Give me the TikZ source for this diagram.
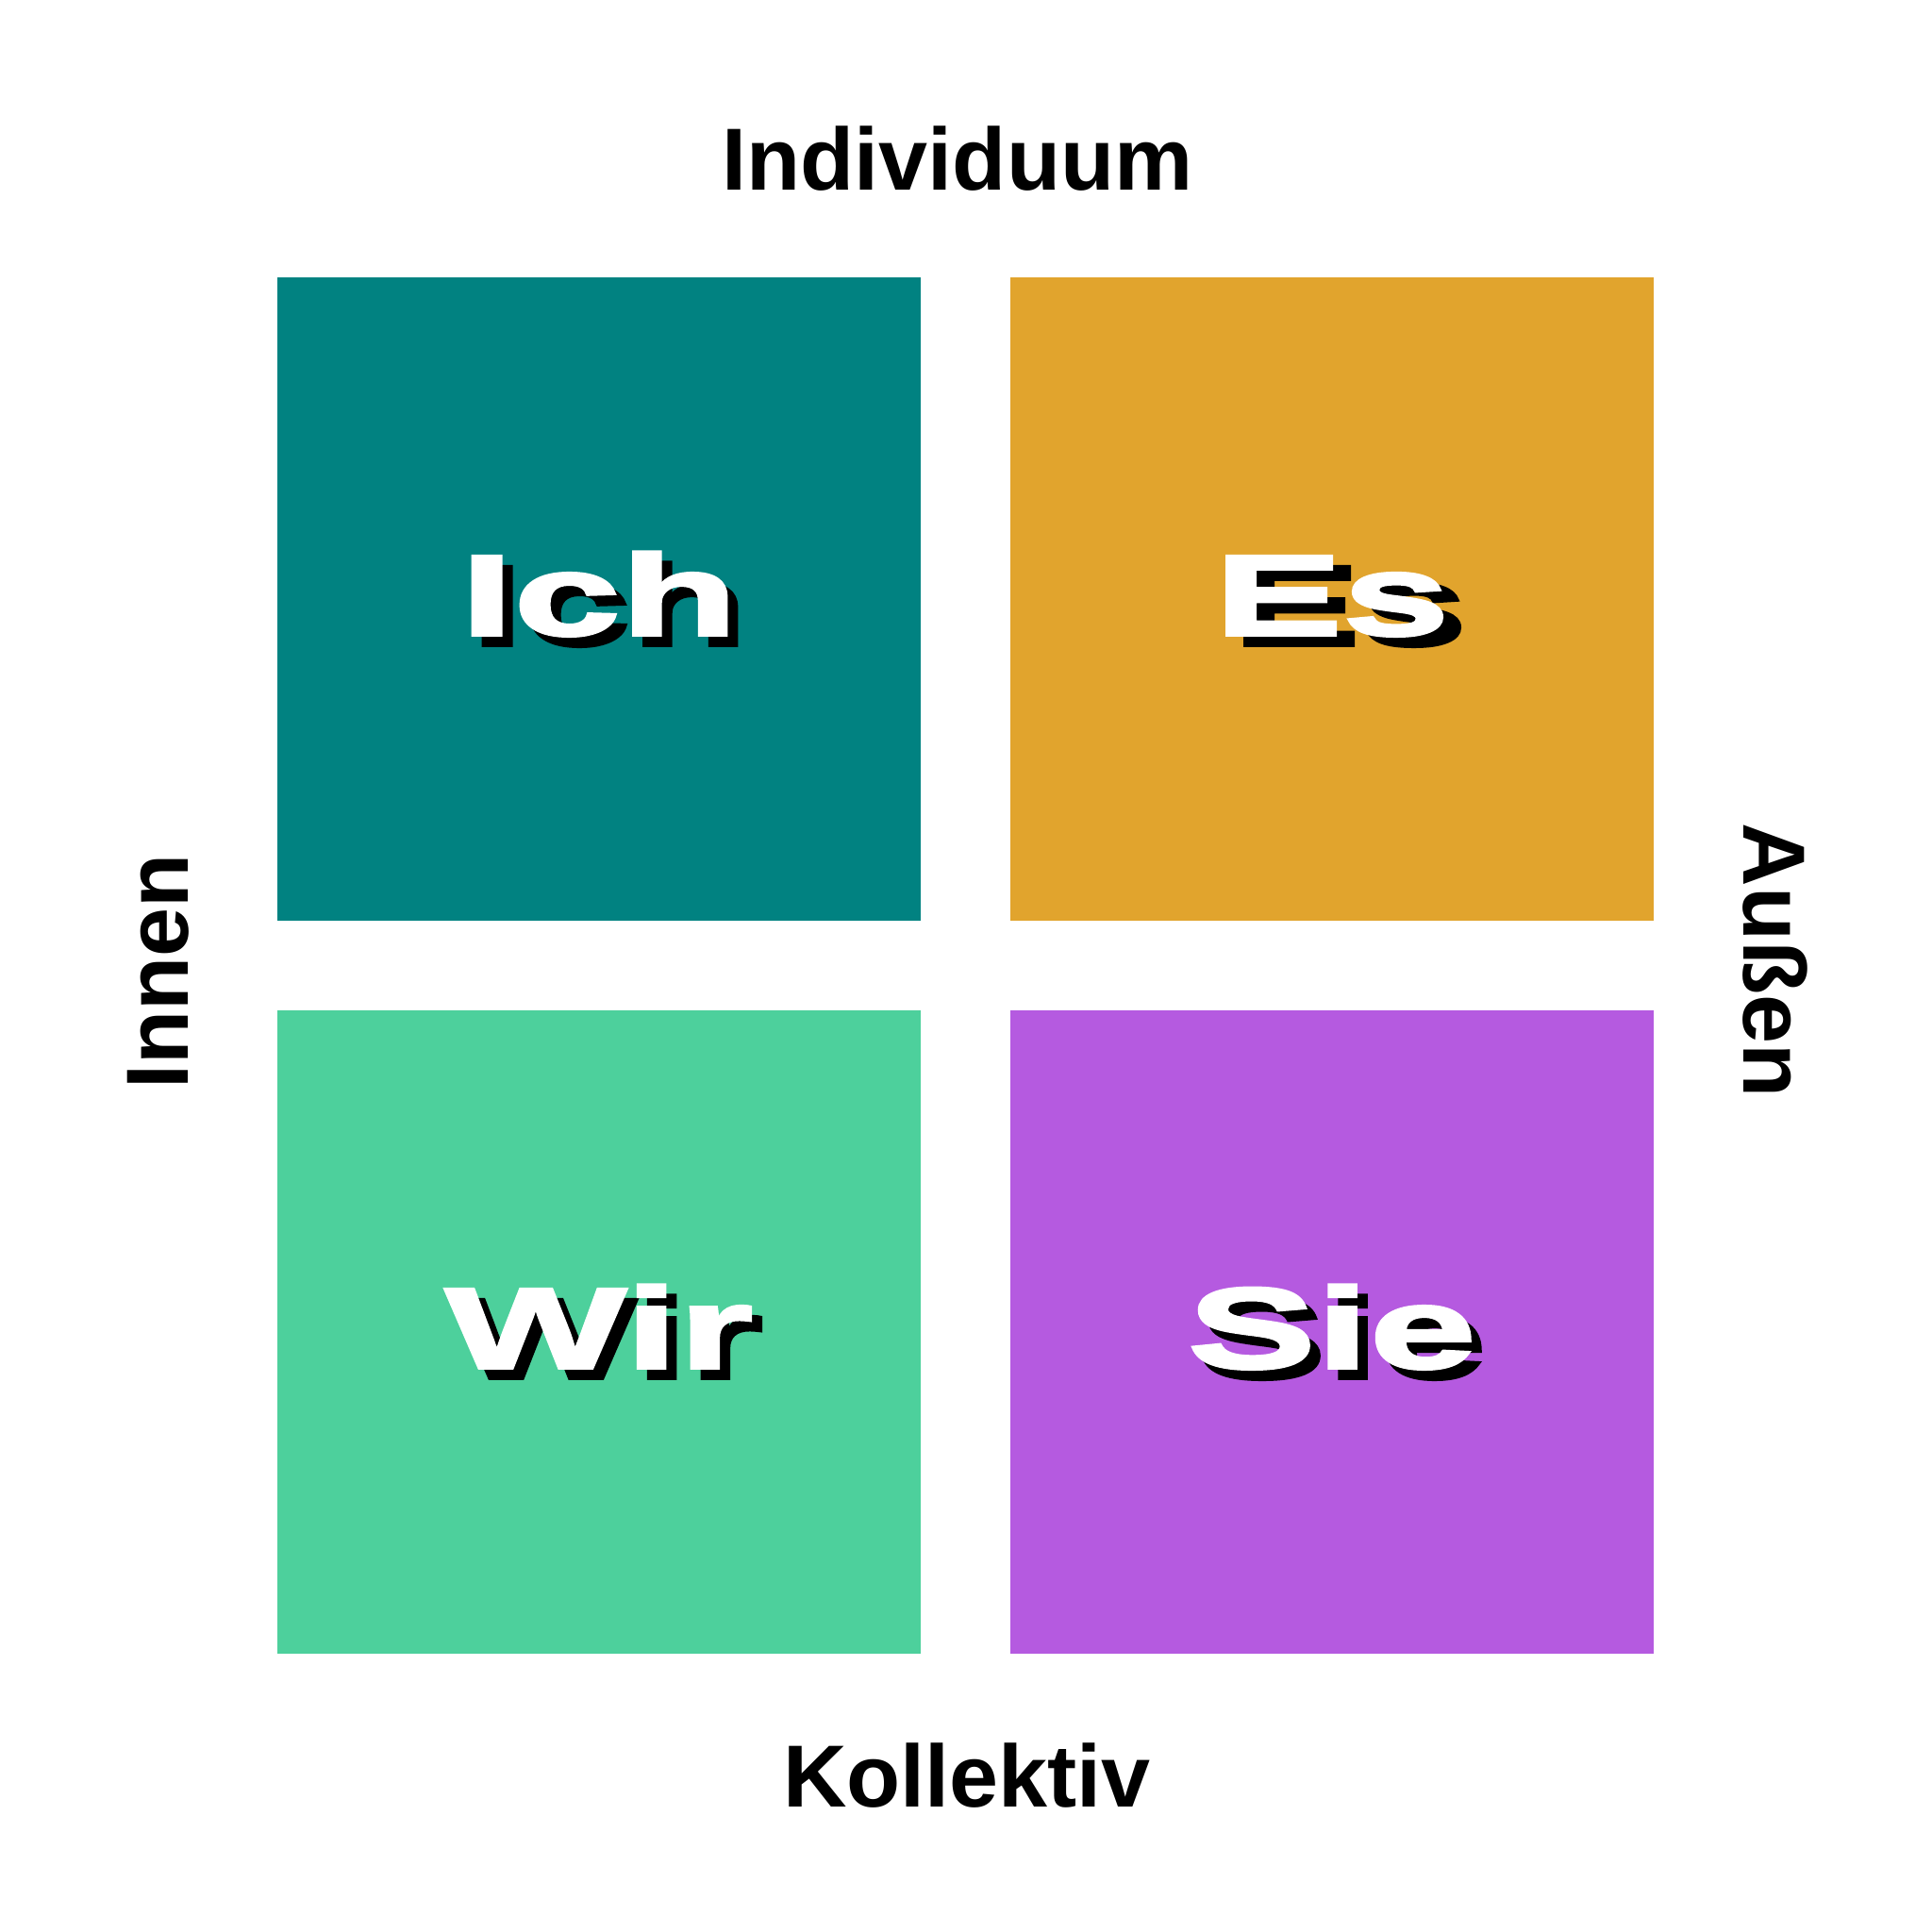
\documentclass[tikz,border=0pt]{standalone}
\usepackage{fontspec}
\setmainfont{Liberation Sans}
\newfontfamily\widefont{Liberation Sans}[FakeStretch=1.68,FakeBold=3]
\definecolor{ichcol}{HTML}{018281}
\definecolor{escol}{HTML}{E1A42D}
\definecolor{wircol}{HTML}{4DD09C}
\definecolor{siecol}{HTML}{B55AE0}
\tikzset{
  quad/.style={rectangle, minimum size=6.82cm, inner sep=0pt},
  axis/.style={font=\bfseries\fontsize{26.6}{30}\selectfont, anchor=base, inner sep=0pt},
  big/.style={font=\widefont\bfseries\fontsize{34.5}{40}\selectfont, anchor=base, inner sep=0pt, text=white},
  shade/.style={big, text=black},
}
\begin{document}
\begin{tikzpicture}
  \useasboundingbox (0,0) rectangle (20.48,-20.48);

  % four quadrants with shadowed labels
  \foreach \name/\x/\y/\col/\txt/\dx in {ich/6.35/-6.35/ichcol/Ich/0.11,
      es/14.12/-6.35/escol/Es/0.19,
      wir/6.35/-14.12/wircol/Wir/0.11,
      sie/14.12/-14.12/siecol/Sie/0.11} {
    \node[quad, fill=\col] (\name) at (\x,\y) {};
    \node[shade] (\name-s) at (\x+\dx,\y-0.49) {\txt};
    \node[big] (\name-t) at (\x,\y-0.38) {\txt};
  }

  % axis labels
  \node[axis] (individuum) at (10.15,-2.01) {Individuum};
  \node[axis] (kollektiv) at (10.25,-19.15) {Kollektiv};
  \node[axis, rotate=90] (innen) at (1.99,-10.30) {Innen};
  \node[axis, rotate=-90] (aussen) at (18.48,-10.18) {Außen};
\end{tikzpicture}
\end{document}
